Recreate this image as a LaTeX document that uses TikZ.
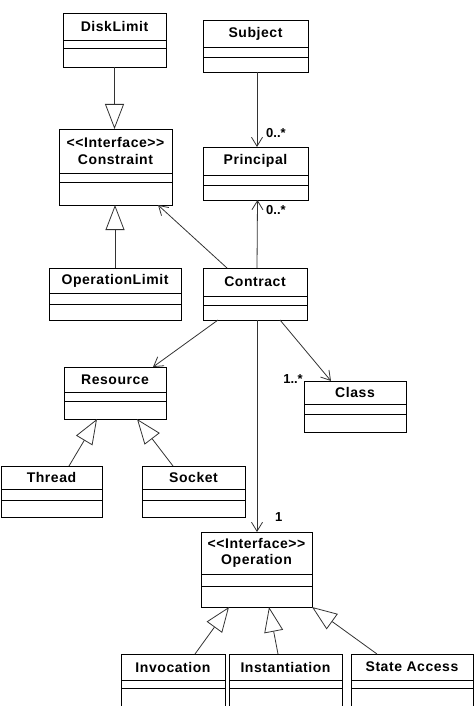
\documentclass[tikz,border=0pt]{standalone}
\usepackage{fontspec}
\setmainfont{Liberation Sans}
\newfontfamily\cfont[LetterSpace=4]{Liberation Sans}
\usetikzlibrary{arrows.meta,calc}
\tikzset{
  cbox/.style={draw=black, line width=0.9pt, rectangle, inner sep=0pt, outer sep=0pt},
  cline/.style={draw=black, line width=0.9pt},
  ctitle/.style={font=\cfont\fontsize{14}{16.5}\selectfont\bfseries, inner sep=0pt, align=center},
  mult/.style={font=\fontsize{13}{15}\selectfont\bfseries, inner sep=0pt},
  conn/.style={draw=black!80, line width=0.8pt},
  assoc/.style={conn, -{Straight Barb[length=9pt, width=11pt, line width=0.8pt]}},
  gen/.style={conn, -{Triangle[open, length=25pt, width=19pt, line width=0.8pt]}}
}
\newcommand\umlclass[8]{%
  \node[cbox, minimum width={(#4)-(#2)}, minimum height={(#5)-(#3)}, anchor=north west] (#1) at (#2,#3) {};
  \draw[cline] (#2,#6) -- (#4,#6) (#2,#7) -- (#4,#7);
  \node[ctitle] (#1-t) at ({(#2+#4)/2},{(#3+#6)/2}) {#8};
}
\begin{document}
\begin{tikzpicture}[x=1pt,y=-1pt]
\useasboundingbox (0,0) rectangle (474,706);
\umlclass{disklimit}{63}{13}{166}{67}{40}{48}{DiskLimit}
\umlclass{subject}{203}{20}{308}{72}{47}{57}{Subject}
\umlclass{constraint}{59}{129}{172}{205}{173}{182}{<{}<Interface>{}>\\Constraint}
\umlclass{principal}{203}{147}{308}{200}{175}{185}{Principal}
\umlclass{oplimit}{49}{268}{181}{320}{293}{304}{OperationLimit}
\umlclass{contract}{203}{268}{307}{320}{296}{305}{Contract}
\umlclass{resource}{64}{367}{166}{419}{392}{401}{Resource}
\umlclass{class}{304}{381}{406}{432}{404}{414}{Class}
\umlclass{thread}{1}{466}{102}{517}{489}{500}{Thread}
\umlclass{socket}{142}{466}{245}{517}{489}{500}{Socket}
\umlclass{operation}{201}{532}{312}{607}{574}{586}{<{}<Interface>{}>\\Operation}
\umlclass{invocation}{121}{654}{225}{716}{680}{688}{Invocation}
\umlclass{instantiation}{229}{654}{342}{716}{680}{688}{Instantiation}
\umlclass{stateaccess}{351}{654}{473}{716}{680}{688}{State Access}

% generalizations
\draw[gen] (disklimit.south) -- (disklimit.south |- constraint.north);
\draw[gen] (oplimit.north) -- (oplimit.north |- constraint.south);
\draw[gen] ($(thread.north west)+(68,0)$) -- ($(resource.south west)+(33,0)$);
\draw[gen] ($(socket.north west)+(31,0)$) -- ($(resource.south west)+(73,0)$);
\draw[gen] ($(invocation.north west)+(74,0)$) -- ($(operation.south west)+(28,0)$);
\draw[gen] ($(instantiation.north west)+(49,0)$) -- ($(operation.south west)+(68,0)$);
\draw[gen] ($(stateaccess.north west)+(26,0)$) -- (operation.south east);

% associations
\draw[assoc] ($(subject.south)+(1.5,0)$) -- ($(principal.north)+(1.5,0)$);
\draw[assoc] ($(contract.north)+(2,0)$) -- ($(principal.south)+(2,0)$);
\draw[assoc] ($(contract.south)+(2,0)$) -- ($(contract.south |- operation.north)+(2,0)$);
\draw[assoc] ($(contract.north west)+(24,0)$) -- ($(constraint.south east)+(-14,0)$);
\draw[assoc] ($(contract.south west)+(15,0)$) -- ($(resource.north east)+(-13,0)$);
\draw[assoc] ($(contract.south west)+(77,0)$) -- ($(class.north west)+(27,0)$);

% multiplicities
\node[mult, anchor=west] (m1) at (266,133) {0..*};
\node[mult, anchor=west] (m2) at (266,210) {0..*};
\node[mult, anchor=east] (m3) at (303,379) {1..*};
\node[mult, anchor=west] (m4) at (275,517) {1};
\end{tikzpicture}
\end{document}
